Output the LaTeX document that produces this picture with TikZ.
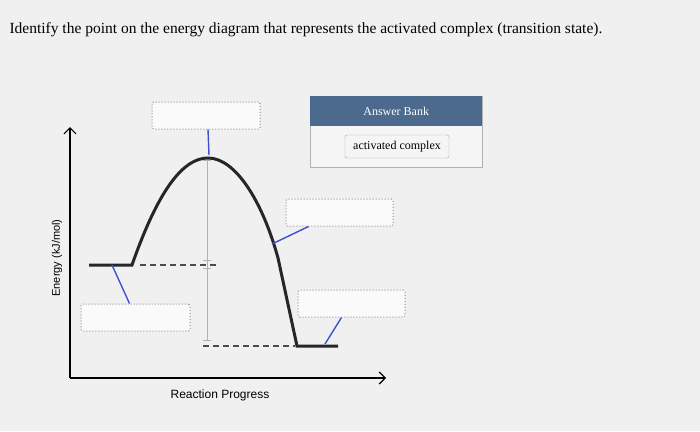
\documentclass[tikz,border=0pt]{standalone}
\usepackage{fontspec}
\setmainfont{Liberation Serif}
\newfontfamily\lsans{Liberation Sans}
\usetikzlibrary{arrows.meta}
\definecolor{hdrblue}{HTML}{4C6A8E}
\definecolor{ptrblue}{HTML}{3F4FD0}
\begin{document}
\begin{tikzpicture}[x=1pt,y=-1pt,
  dropbox/.style={draw=gray!90,dotted,rounded corners=1.5pt,fill=gray!4,line width=1pt},
  curve/.style={line width=3pt,black!85},
  pointer/.style={draw=ptrblue,line width=1.4pt}]
\fill[gray!12] (0,0) rectangle (700,431);
\useasboundingbox (0,0) rectangle (700,431);
\node[anchor=west,font=\fontsize{15.5}{18}\selectfont] (title) at (6,30) {Identify the point on the energy diagram that represents the activated complex (transition state).};
% axes
\coordinate (o) at (70,378);
\coordinate (ytop) at (70,127);
\coordinate (xend) at (386,378);
\draw[line width=1.2pt,-{Straight Barb[length=6pt]}] (o) -- (ytop);
\draw[line width=1.2pt,-{Straight Barb[length=6pt]}] (o) -- (xend);
\node[rotate=90,font=\lsans\fontsize{11}{13}\selectfont] (ylab) at (57,258) {Energy (kJ/mol)};
\node[font=\lsans\fontsize{12}{14}\selectfont] (xlab) at (220,395) {Reaction Progress};
% gray measure line
\draw[gray!60,line width=0.6pt] (207,160) -- (207,340);
\foreach \yy in {160,260,268,340} \draw[gray!60] (203,\yy) -- (211,\yy);
% dashed
\draw[black!70,line width=1.5pt,dash pattern=on 6pt off 4pt] (140,265) -- (218,265);
\draw[black!70,line width=1.5pt,dash pattern=on 6pt off 4pt] (203,346) -- (295,346);
% curve
\draw[curve] (89,265) -- (132,265) .. controls (160,185) and (185,158) .. (208,158)
  .. controls (235,158) and (262,200) .. (278,258) -- (297,346) -- (338,346);
% boxes
\node[dropbox,minimum width=108pt,minimum height=27pt] (b1) at (206,115.5) {};
\node[dropbox,minimum width=107pt,minimum height=27pt] (b2) at (339.5,212.5) {};
\node[dropbox,minimum width=109pt,minimum height=27pt] (b3) at (135.5,317.5) {};
\node[dropbox,minimum width=107pt,minimum height=27pt] (b4) at (351.5,303.5) {};
\coordinate (p1) at (209,155);
\coordinate (p2) at (272,244);
\coordinate (p3) at (112,265);
\coordinate (p4) at (325,344);
\draw[pointer] (b1.south) ++(2,0) -- (p1);
\draw[pointer] (b2.south west) ++(23,0) -- (p2);
\draw[pointer] (b3.north west) ++(49,0) -- (p3);
\draw[pointer] (b4.south west) ++(44,0) -- (p4);
% answer bank
\node[draw=gray!60,fill=gray!8,minimum width=172pt,minimum height=71pt,anchor=north west] (bank) at (310,96) {};
\node[fill=hdrblue,minimum width=172pt,minimum height=30pt,anchor=north west,text=white,font=\fontsize{12}{14}\selectfont] (hdr) at (310,96) {Answer Bank};
\node[draw=gray!70,fill=gray!8,rounded corners=2pt,minimum width=104pt,minimum height=23pt,font=\fontsize{12}{14}\selectfont] (ans) at (397,146.5) {activated complex};
\end{tikzpicture}
\end{document}
